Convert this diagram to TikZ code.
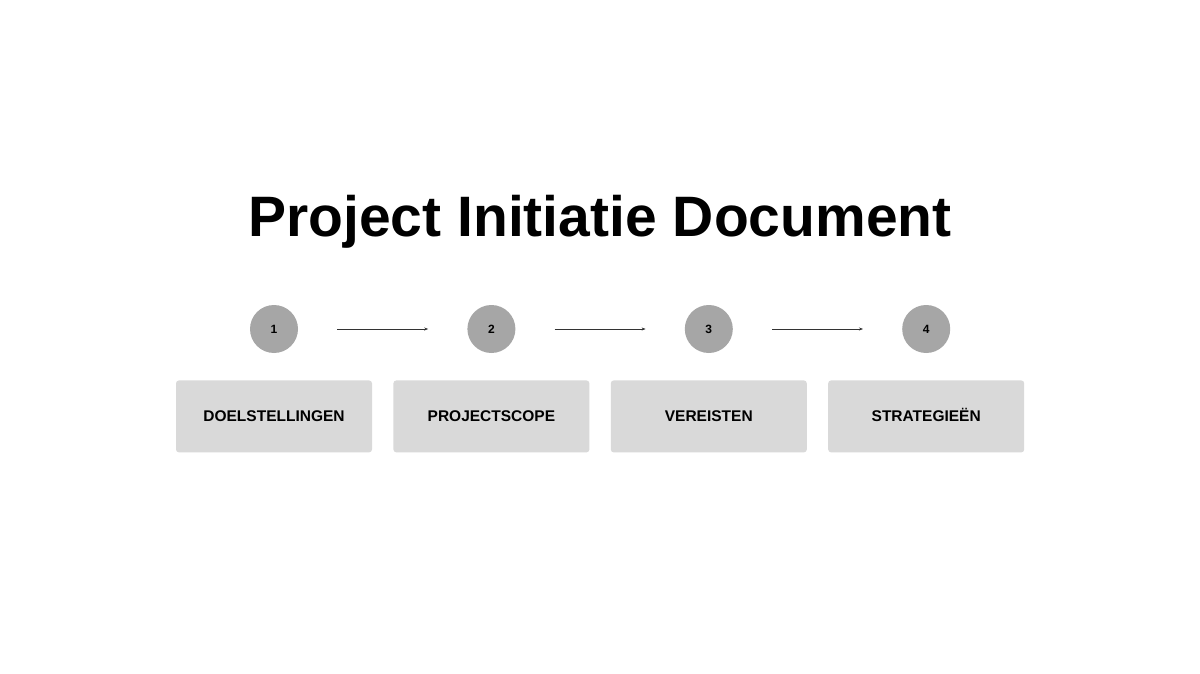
\documentclass[tikz,border=0pt]{standalone}
\usepackage{fontspec}
\setmainfont{Liberation Sans}
\usepackage{xcolor}
\usetikzlibrary{positioning,arrows.meta}

\definecolor{stepgray}{HTML}{A6A6A6}
\definecolor{boxgray}{HTML}{D9D9D9}
\definecolor{arrowgray}{HTML}{333333}

\tikzset{
  stepnum/.style={circle, fill=stepgray, minimum size=48pt, inner sep=0pt, font=\fontsize{12}{12}\selectfont\bfseries},
  stepbox/.style={fill=boxgray, rounded corners=3pt, minimum width=196pt, minimum height=72pt, inner sep=0pt, text height=11pt, text depth=0pt, font=\fontsize{15.5}{16}\selectfont\bfseries},
  steparrow/.style={-{Stealth[length=4pt,width=3pt]}, arrowgray, line width=1pt, shorten <=39pt, shorten >=39pt}
}

\begin{document}
\begin{tikzpicture}[x=1pt, y=-1pt]
\useasboundingbox[fill=white] (0,0) rectangle (1200,674);

% title
\node[font=\fontsize{57}{60}\selectfont\bfseries, anchor=base] (title) at (600,236) {Project Initiatie Document};

% numbered steps
\node[stepnum] (num1) at (274,329) {1};
\node[stepnum, right=169pt of num1] (num2) {2};
\node[stepnum, right=169pt of num2] (num3) {3};
\node[stepnum, right=169pt of num3] (num4) {4};

\draw[steparrow] (num1) -- (num2);
\draw[steparrow] (num2) -- (num3);
\draw[steparrow] (num3) -- (num4);

% boxes
\node[stepbox, below=27pt of num1] (box1) {DOELSTELLINGEN};
\node[stepbox, below=27pt of num2] (box2) {PROJECTSCOPE};
\node[stepbox, below=27pt of num3] (box3) {VEREISTEN};
\node[stepbox, below=27pt of num4] (box4) {STRATEGIEËN};
\end{tikzpicture}
\end{document}
